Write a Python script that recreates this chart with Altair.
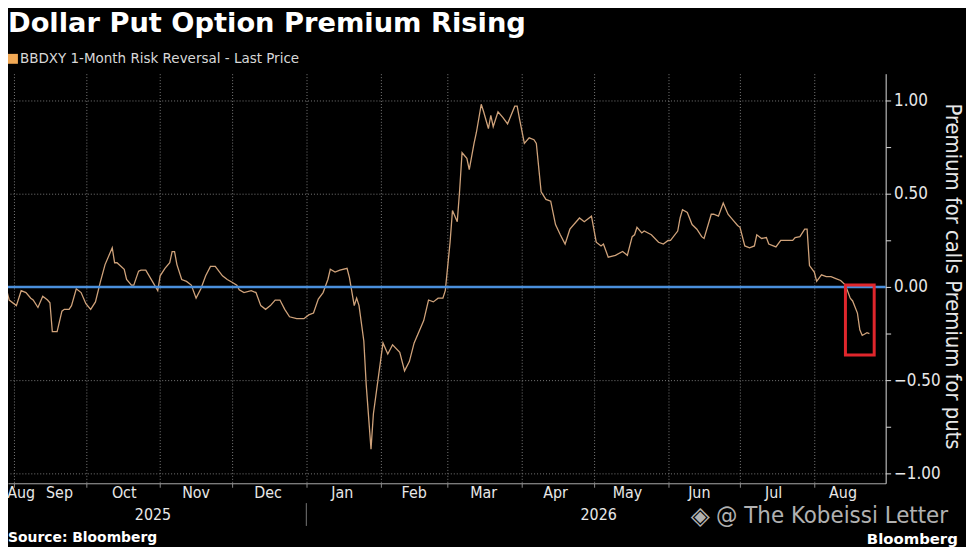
import altair as alt
import pandas as pd

# ---- data ----
dates = [
    "2025-08-26", "2025-08-29", "2025-08-30", "2025-09-02", "2025-09-04", "2025-09-06",
    "2025-09-08", "2025-09-09", "2025-09-11", "2025-09-13", "2025-09-15", "2025-09-16",
    "2025-09-17", "2025-09-19", "2025-09-21", "2025-09-22", "2025-09-24", "2025-09-25",
    "2025-09-27", "2025-09-29", "2025-10-01", "2025-10-03", "2025-10-05", "2025-10-07",
    "2025-10-09", "2025-10-12", "2025-10-13", "2025-10-14", "2025-10-17", "2025-10-18",
    "2025-10-20", "2025-10-21", "2025-10-23", "2025-10-24", "2025-10-26", "2025-10-29",
    "2025-10-31", "2025-11-01", "2025-11-03", "2025-11-05", "2025-11-06", "2025-11-07",
    "2025-11-08", "2025-11-10", "2025-11-12", "2025-11-14", "2025-11-16", "2025-11-18",
    "2025-11-20", "2025-11-22", "2025-11-24", "2025-11-27", "2025-11-29", "2025-12-01",
    "2025-12-03", "2025-12-04", "2025-12-06", "2025-12-09", "2025-12-11", "2025-12-13",
    "2025-12-15", "2025-12-17", "2025-12-19", "2025-12-21", "2025-12-23", "2025-12-25",
    "2025-12-28", "2025-12-31", "2026-01-02", "2026-01-04", "2026-01-06", "2026-01-08",
    "2026-01-10", "2026-01-11", "2026-01-13", "2026-01-15", "2026-01-18", "2026-01-19",
    "2026-01-21", "2026-01-22", "2026-01-23", "2026-01-25", "2026-01-26", "2026-01-28",
    "2026-01-29", "2026-01-31", "2026-02-02", "2026-02-04", "2026-02-06", "2026-02-09",
    "2026-02-11", "2026-02-13", "2026-02-15", "2026-02-19", "2026-02-21", "2026-02-23",
    "2026-02-25", "2026-02-27", "2026-02-28", "2026-03-02", "2026-03-03", "2026-03-05",
    "2026-03-06", "2026-03-07", "2026-03-09", "2026-03-10", "2026-03-12", "2026-03-13",
    "2026-03-15", "2026-03-16", "2026-03-18", "2026-03-19", "2026-03-20", "2026-03-22",
    "2026-03-24", "2026-03-26", "2026-03-29", "2026-03-30", "2026-03-31", "2026-04-02",
    "2026-04-04", "2026-04-06", "2026-04-07", "2026-04-09", "2026-04-11", "2026-04-13",
    "2026-04-15", "2026-04-17", "2026-04-19", "2026-04-21", "2026-04-25", "2026-04-27",
    "2026-04-30", "2026-05-02", "2026-05-04", "2026-05-05", "2026-05-07", "2026-05-10",
    "2026-05-13", "2026-05-15", "2026-05-17", "2026-05-18", "2026-05-19", "2026-05-21",
    "2026-05-22", "2026-05-25", "2026-05-28", "2026-05-30", "2026-06-01", "2026-06-02",
    "2026-06-05", "2026-06-06", "2026-06-07", "2026-06-09", "2026-06-11", "2026-06-13",
    "2026-06-15", "2026-06-16", "2026-06-19", "2026-06-20", "2026-06-22", "2026-06-24",
    "2026-06-26", "2026-06-28", "2026-06-30", "2026-07-01", "2026-07-03", "2026-07-05",
    "2026-07-07", "2026-07-08", "2026-07-10", "2026-07-12", "2026-07-13", "2026-07-16",
    "2026-07-18", "2026-07-20", "2026-07-23", "2026-07-24", "2026-07-26", "2026-07-28",
    "2026-07-29", "2026-07-30", "2026-08-01", "2026-08-02", "2026-08-04", "2026-08-06",
    "2026-08-08", "2026-08-10", "2026-08-12", "2026-08-14", "2026-08-16", "2026-08-17",
    "2026-08-19", "2026-08-20", "2026-08-21", "2026-08-23", "2026-08-24",
]
values = [
    -0.02, -0.02, -0.07, -0.10, -0.02, -0.03,
    -0.06, -0.07, -0.11, -0.05, -0.07, -0.085,
    -0.24, -0.24, -0.13, -0.12, -0.12, -0.10,
    -0.01, -0.03, -0.09, -0.12, -0.08, 0.025,
    0.12, 0.21, 0.13, 0.13, 0.095, 0.04,
    0.01, 0.01, 0.085, 0.09, 0.09, 0.025,
    -0.02, 0.06, 0.10, 0.13, 0.19, 0.19,
    0.12, 0.04, 0.03, 0.01, -0.06, -0.01,
    0.06, 0.11, 0.11, 0.06, 0.04, 0.025,
    0.01, -0.015, -0.03, -0.02, -0.03, -0.10,
    -0.12, -0.10, -0.07, -0.07, -0.12, -0.16,
    -0.17, -0.17, -0.15, -0.14, -0.065, -0.03,
    0.04, 0.095, 0.08, 0.09, 0.10, 0.05,
    -0.10, -0.06, -0.10, -0.29, -0.525, -0.87,
    -0.68, -0.49, -0.30, -0.36, -0.31, -0.35,
    -0.45, -0.40, -0.30, -0.18, -0.07, -0.08,
    -0.06, -0.06, -0.02, 0.24, 0.41, 0.35,
    0.52, 0.72, 0.69, 0.63, 0.77, 0.83,
    0.98, 0.94, 0.85, 0.92, 0.86, 0.94,
    0.91, 0.875, 0.97, 0.97, 0.90, 0.77,
    0.80, 0.79, 0.77, 0.51, 0.47, 0.46,
    0.335, 0.28, 0.23, 0.31, 0.37, 0.35,
    0.38, 0.24, 0.22, 0.23, 0.16, 0.17,
    0.19, 0.17, 0.27, 0.28, 0.32, 0.29,
    0.30, 0.28, 0.24, 0.23, 0.25, 0.25,
    0.30, 0.37, 0.415, 0.40, 0.335, 0.31,
    0.27, 0.26, 0.39, 0.39, 0.38, 0.45,
    0.39, 0.36, 0.33, 0.32, 0.22, 0.21,
    0.22, 0.28, 0.26, 0.265, 0.23, 0.215,
    0.25, 0.25, 0.25, 0.265, 0.27, 0.31,
    0.31, 0.115, 0.08, 0.03, 0.065, 0.055,
    0.055, 0.045, 0.035, 0.01, -0.06, -0.075,
    -0.14, -0.23, -0.26, -0.245, -0.25,
]

month_labels = ["Aug", "Sep", "Oct", "Nov", "Dec", "Jan", "Feb", "Mar", "Apr", "May", "Jun", "Jul", "Aug"]
month_label_dates = ["2025-09-04", "2025-09-20", "2025-10-17", "2025-11-16", "2025-12-16", "2026-01-16",
                     "2026-02-15", "2026-03-16", "2026-04-15", "2026-05-15", "2026-06-14", "2026-07-15",
                     "2026-08-13"]
month_start_ym = [(2025, 9), (2025, 10), (2025, 11), (2025, 12), (2026, 1), (2026, 2), (2026, 3),
                  (2026, 4), (2026, 5), (2026, 6), (2026, 7), (2026, 8)]
year_labels = ["2025", "2026"]
year_label_dates = ["2025-10-29", "2026-05-03"]
year_break = ["2026-01-01"]
y_tick_values = [-1.0, -0.75, -0.5, -0.25, 0.0, 0.25, 0.5, 0.75, 1.0]
box_start, box_end = ["2026-08-14"], ["2026-08-26"]
box_top, box_bottom = [0.01], [-0.365]

title_text = "Dollar Put Option Premium Rising"
legend_text = "BBDXY 1-Month Risk Reversal - Last Price"
y_title = "Premium for calls Premium for puts"
source_text = "Source: Bloomberg"
watermark_text = "@ The Kobeissi Letter"

# ---- styling ----
W, H = 885, 413
BG = "#000000"
LINE = "#cfa27a"
GRID = "#7a7a7a"
TXT = "#e8e8e8"
COND = "DejaVu Sans Condensed"

df = pd.DataFrame({"date": dates, "value": values})
x_scale = alt.Scale(domain=[alt.DateTime(year=2025, month=8, date=29, hours=12),
                            alt.DateTime(year=2026, month=8, date=30, hours=19)])
y_scale = alt.Scale(domain=[-1.053, 1.144], nice=False, zero=False)

x_axis = alt.Axis(
    values=[alt.DateTime(year=y, month=m, date=1) for y, m in month_start_ym],
    labels=False, title=None, grid=True, gridColor=GRID, gridDash=[1, 2], gridWidth=1,
    ticks=True, tickColor="#888888", tickSize=4, domain=True, domainColor="#aaaaaa",
)
y_axis = alt.Axis(
    orient="right", values=y_tick_values,
    labelExpr="datum.value % 0.5 == 0 ? format(datum.value, '.2f') : ''",
    grid=True, gridColor=GRID, gridDash=[1, 2],
    gridOpacity={"condition": {"test": "datum.value % 0.5 == 0", "value": 1}, "value": 0},
    tickSize=5, tickColor="#dddddd", domainColor="#dddddd",
    labelColor=TXT, labelFont=COND, labelFontSize=17, labelPadding=3,
    title=y_title, titleColor=TXT, titleFont=COND, titleFontSize=22, titleFontWeight="normal",
    titleAngle=90, titleX=67, titleY=204, titleAlign="center", titleBaseline="middle",
)

line = alt.Chart(df).mark_line(color=LINE, strokeWidth=1.3, clip=True).encode(
    x=alt.X("date:T", scale=x_scale, axis=x_axis),
    y=alt.Y("value:Q", scale=y_scale, axis=y_axis),
)

zero = alt.Chart(pd.DataFrame({"z": [0.0]})).mark_rule(color="#4a8fdc", strokeWidth=2.6).encode(
    y=alt.Y("z:Q")
)

box_df = pd.DataFrame({"s": box_start, "e": box_end, "t": box_top, "b": box_bottom})
box = alt.Chart(box_df).mark_rect(fillOpacity=0, stroke="#e0262c", strokeWidth=3).encode(
    x="s:T", x2="e:T", y="t:Q", y2="b:Q"
)

months_df = pd.DataFrame({"d": month_label_dates, "m": month_labels})
months = alt.Chart(months_df).mark_text(
    color=TXT, font=COND, fontSize=16, baseline="middle", align="center"
).encode(x="d:T", y=alt.value(H + 10), text="m:N")

years_df = pd.DataFrame({"d": year_label_dates, "y": year_labels})
years = alt.Chart(years_df).mark_text(
    color=TXT, font=COND, fontSize=16, baseline="middle", align="center"
).encode(x="d:T", y=alt.value(H + 32), text="y:N")

yb = alt.Chart(pd.DataFrame({"d": year_break})).mark_rule(color="#777777", strokeWidth=1).encode(
    x="d:T", y=alt.value(H + 20), y2=alt.value(H + 43)
)

title = alt.Chart(pd.DataFrame({"t": [title_text]})).mark_text(
    color="#ffffff", font="DejaVu Sans", fontSize=27.5, fontWeight="bold", align="left", baseline="middle"
).encode(x=alt.value(0), y=alt.value(-50), text="t:N")

legend_sq = alt.Chart(pd.DataFrame({"k": [legend_text]})).mark_square(
    color="#f2a955", opacity=1, size=100, filled=True
).encode(x=alt.value(5), y=alt.value(-15))

legend_tx = alt.Chart(pd.DataFrame({"t": [legend_text]})).mark_text(
    color="#d8d8d8", font="DejaVu Sans", fontSize=13.6, align="left", baseline="middle"
).encode(x=alt.value(12), y=alt.value(-15), text="t:N")

source = alt.Chart(pd.DataFrame({"t": [source_text]})).mark_text(
    color="#ffffff", font="DejaVu Sans", fontSize=14, fontWeight="bold", align="left", baseline="middle"
).encode(x=alt.value(0), y=alt.value(H + 55), text="t:N")

logo = alt.Chart(pd.DataFrame({"t": ["◈"]})).mark_text(
    color="#cfcfcf", font="DejaVu Sans", fontSize=25, align="center", baseline="middle", opacity=0.85
).encode(x=alt.value(698), y=alt.value(H + 33), text="t:N")

wm = alt.Chart(pd.DataFrame({"t": [watermark_text]})).mark_text(
    color="#d0d0d0", font=COND, fontSize=24, align="left", baseline="middle", opacity=0.85
).encode(x=alt.value(714), y=alt.value(H + 33), text="t:N")

bbg = alt.Chart(pd.DataFrame({"t": ["Bloomberg"]})).mark_text(
    color="#ffffff", font="DejaVu Sans", fontSize=15, fontWeight="bold", align="left", baseline="middle"
).encode(x=alt.value(866), y=alt.value(H + 56), text="t:N")

chart = alt.layer(
    line, zero, box, months, years, yb, title, legend_sq, legend_tx, source, logo, wm, bbg
).properties(
    width=W, height=H, background=BG,
    autosize=alt.AutoSizeParams(type="none"),
    padding={"left": 0, "top": 64, "right": 81, "bottom": 62},
).configure_view(stroke=None)

chart.save("out.html", embed_options={"renderer": "svg", "actions": False})
